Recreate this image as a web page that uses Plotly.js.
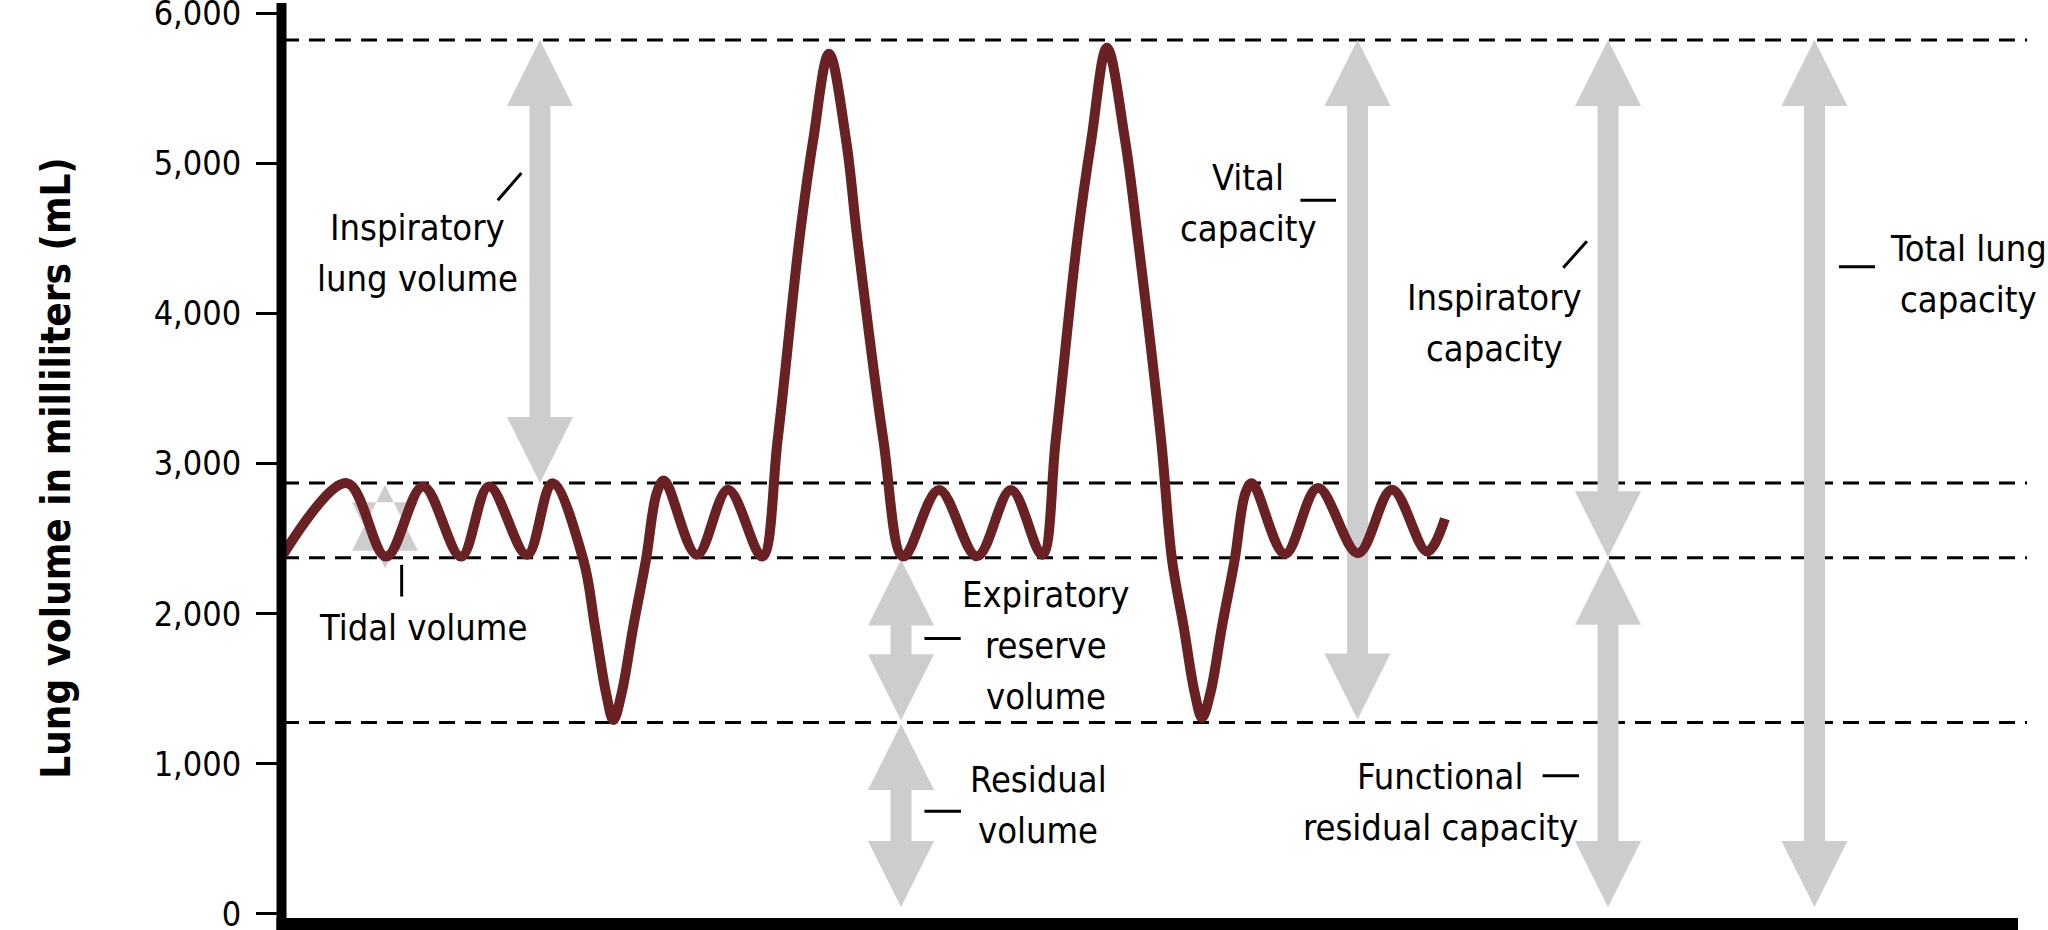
<!DOCTYPE html>
<html>
<head>
<meta charset="utf-8">
<script src="https://cdn.plot.ly/plotly-3.0.1.min.js"></script>
<style>
  html, body { margin: 0; padding: 0; background: #fff; }
  #chart { width: 2048px; height: 930px; }
</style>
</head>
<body>
<div id="chart"></div>
<script>
// breathing trace (time in arbitrary units, volume in mL)
var timeS = [0, 3.69, 5.94, 8.07, 10.26, 11.87, 14.06, 15.52, 17.31, 17.98, 18.62, 19.04,
  19.52, 20.19, 20.92, 21.54, 21.96, 23.86, 25.65, 27.61, 28.51, 29.76, 30.56, 31.47,
  32.45, 33.11, 34.60, 35.76, 37.81, 40.00, 41.96, 43.75, 44.54, 45.78, 46.59, 47.49,
  48.53, 49.28, 50.61, 51.24, 51.91, 52.55, 52.97, 53.45, 54.12, 54.85, 55.47, 55.85,
  57.75, 59.65, 61.96, 63.92, 65.94, 66.97];
var volumeML = [2392, 2869, 2380, 2847, 2380, 2847, 2392, 2869, 2358, 1914, 1471, 1292,
  1471, 1914, 2358, 2803, 2887, 2392, 2825, 2380, 3158, 4490, 5156, 5729,
  5156, 4490, 3158, 2380, 2823, 2382, 2823, 2392, 3158, 4490, 5156, 5769,
  5156, 4490, 3158, 2358, 1914, 1471, 1306, 1471, 1914, 2358, 2803, 2869,
  2398, 2836, 2403, 2825, 2414, 2632];

// reference levels (dashed)
var levelsML = [5820, 2870, 2372, 1275];

// volume / capacity arrows
var arrowNames = ['Tidal volume', 'Inspiratory lung volume', 'Expiratory reserve volume',
  'Residual volume', 'Vital capacity', 'Inspiratory capacity',
  'Functional residual capacity', 'Total lung capacity'];
var arrowX = [5.88, 14.81, 35.62, 35.62, 61.93, 76.37, 76.37, 88.27];
var arrowTop = [2858, 5820, 2360, 1265, 5820, 5820, 2365, 5820];
var arrowBottom = [2303, 2870, 1290, 47, 1295, 2375, 47, 47];

// label text
var labelLines = [
  ['Inspiratory', 'lung volume'],
  ['Tidal volume'],
  ['Expiratory', 'reserve', 'volume'],
  ['Residual', 'volume'],
  ['Vital', 'capacity'],
  ['Inspiratory', 'capacity'],
  ['Functional', 'residual capacity'],
  ['Total lung', 'capacity']
];

var yTicks = [0, 1000, 2000, 3000, 4000, 5000, 6000];

// ---- layout geometry ----
var W = 2048, H = 930;
var mar = {l: 283, r: 30, t: 13, b: 7};
var xRange = [0, 100], yRange = [-60, 6000];
var plotW = W - mar.l - mar.r, plotH = H - mar.t - mar.b;
var pxX = plotW / (xRange[1] - xRange[0]);
var pxY = plotH / (yRange[1] - yRange[0]);

var FONT = '"DejaVu Sans Condensed", "DejaVu Sans", Verdana, sans-serif';
var GRAY = '#cdcdcd';
var HEAD_W = 66, HEAD_H = 66, SHAFT_W = 21;

function arrowPath(x, top, bot) {
  var hw = HEAD_W / 2 / pxX, hh = HEAD_H / pxY, sw = SHAFT_W / 2 / pxX;
  var p = function (a, b) { return a.toFixed(3) + ',' + b.toFixed(2); };
  if (top - bot > 2 * hh) {
    return 'M' + p(x, top) + 'L' + p(x + hw, top - hh) + 'L' + p(x + sw, top - hh) +
      'L' + p(x + sw, bot + hh) + 'L' + p(x + hw, bot + hh) + 'L' + p(x, bot) +
      'L' + p(x - hw, bot + hh) + 'L' + p(x - sw, bot + hh) + 'L' + p(x - sw, top - hh) +
      'L' + p(x - hw, top - hh) + 'Z';
  }
  // short span: two overlapping heads
  return 'M' + p(x, top) + 'L' + p(x + hw, top - hh) + 'L' + p(x - hw, top - hh) + 'Z' +
    'M' + p(x, bot) + 'L' + p(x - hw, bot + hh) + 'L' + p(x + hw, bot + hh) + 'Z';
}

var shapes = [];
arrowX.forEach(function (x, i) {
  shapes.push({type: 'path', xref: 'x', yref: 'y', layer: 'below',
    path: arrowPath(x, arrowTop[i], arrowBottom[i]),
    fillcolor: GRAY, line: {width: 0}, name: arrowNames[i]});
});
levelsML.forEach(function (v) {
  shapes.push({type: 'line', xref: 'paper', yref: 'y', layer: 'below',
    x0: 0, x1: (2027 - mar.l) / plotW, y0: v, y1: v,
    line: {color: '#000', width: 3, dash: '16px,10px'}});
});

// leader ticks next to the labels
var leaders = [
  [12.38, 4753, 13.74, 4935],
  [6.84, 2325, 6.84, 2114],
  [36.97, 1834, 39.06, 1834],
  [36.97, 684, 39.08, 684],
  [58.64, 4753, 60.69, 4753],
  [73.79, 4303, 75.15, 4480],
  [72.60, 921, 74.70, 921],
  [89.68, 4311, 91.76, 4311]
];
leaders.forEach(function (s) {
  shapes.push({type: 'line', xref: 'x', yref: 'y', x0: s[0], y0: s[1], x1: s[2], y1: s[3],
    line: {color: '#000', width: 3}});
});

// heavy axis lines
shapes.push({type: 'line', xref: 'paper', yref: 'paper',
  x0: -1.5 / plotW, x1: -1.5 / plotW, y0: (plotH + 10) / plotH, y1: -7 / plotH,
  line: {color: '#000', width: 10}});
shapes.push({type: 'line', xref: 'paper', yref: 'paper',
  x0: -6.5 / plotW, x1: 1, y0: -1 / plotH, y1: -1 / plotH,
  line: {color: '#000', width: 12}});

// label anchors: centre x and first line centre y
var labelPos = [
  [7.78, 4569], [8.07, 1906], [43.95, 2126], [43.52, 893],
  [55.62, 4903], [69.80, 4106], [66.69, 913], [97.12, 4430]
];
var LINE_GAP = 51;
var annotations = [];
labelLines.forEach(function (lines, i) {
  lines.forEach(function (t, j) {
    annotations.push({xref: 'x', yref: 'y', x: labelPos[i][0], y: labelPos[i][1],
      yshift: -j * LINE_GAP, text: t, showarrow: false,
      xanchor: 'center', yanchor: 'middle',
      font: {family: FONT, size: 36, color: '#000'}});
  });
});

var trace = {
  type: 'scatter',
  mode: 'lines',
  x: timeS,
  y: volumeML,
  line: {color: '#6a2124', width: 10, shape: 'spline', smoothing: 1},
  hoverinfo: 'skip'
};

var layout = {
  width: W,
  height: H,
  margin: mar,
  paper_bgcolor: '#fff',
  plot_bgcolor: '#fff',
  showlegend: false,
  xaxis: {range: xRange, visible: false, fixedrange: true},
  yaxis: {
    range: yRange,
    tickvals: yTicks,
    tickformat: ',d',
    ticks: 'outside',
    ticklen: 26,
    tickwidth: 3,
    tickcolor: '#000',
    showgrid: false,
    zeroline: false,
    showline: false,
    ticklabeloverflow: 'allow',
    ticklabelstandoff: 8,
    tickfont: {family: FONT, size: 34, color: '#000'},
    title: {
      text: 'Lung volume in milliliters (mL)',
      standoff: 70,
      font: {family: FONT, size: 40, color: '#000', weight: 'bold'}
    },
    automargin: false,
    fixedrange: true
  },
  shapes: shapes,
  annotations: annotations
};

Plotly.newPlot('chart', [trace], layout, {displayModeBar: false, staticPlot: true});
</script>
</body>
</html>
